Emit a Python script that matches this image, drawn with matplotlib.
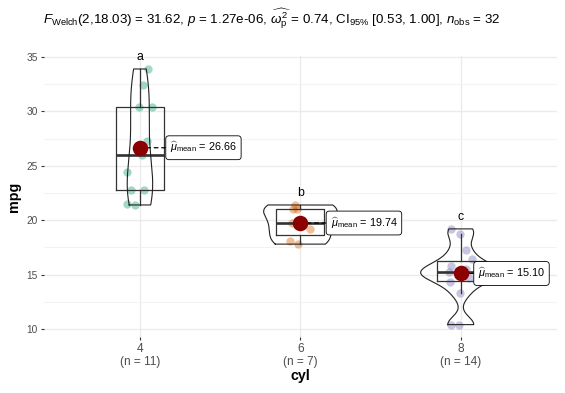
import numpy as np
import matplotlib
matplotlib.use("Agg")
import matplotlib.pyplot as plt

plt.rcParams['font.family'] = ['Liberation Sans', 'DejaVu Sans']
plt.rcParams['mathtext.fontset'] = 'custom'
plt.rcParams['mathtext.rm'] = 'Liberation Sans'
plt.rcParams['mathtext.it'] = 'Liberation Sans:italic'
plt.rcParams['mathtext.bf'] = 'Liberation Sans:bold'

# ---- data ----
categories = ["4", "6", "8"]
counts = [11, 7, 14]
mpg_cyl4 = [33.9, 32.4, 30.4, 30.4, 27.3, 26.0, 24.4, 22.8, 22.8, 21.5, 21.4]
mpg_cyl6 = [21.4, 21.0, 21.0, 19.7, 19.2, 18.1, 17.8]
mpg_cyl8 = [19.2, 18.7, 17.3, 16.4, 15.8, 15.5, 15.2, 15.2, 15.0, 14.7, 14.3, 13.3, 10.4, 10.4]
group_means = [26.66, 19.74, 15.10]
letters = ["a", "b", "c"]
title_text = (r"$F_{\mathrm{Welch}}$(2,18.03) = 31.62, $p$ = 1.27e-06, "
              r"$\widehat{\omega_{\mathrm{p}}^{2}}$ = 0.74, CI$_{95\%}$ [0.53, 1.00], "
              r"$n_{\mathrm{obs}}$ = 32")

# jitter offsets (x, in category units)
jit4 = [0.048, 0.02, -0.004, 0.075, 0.045, 0.014, -0.079, -0.054, 0.023, -0.079, -0.031]
jit6 = [-0.035, -0.045, -0.02, -0.052, 0.062, -0.067, -0.014]
jit8 = [-0.058, -0.006, 0.035, 0.067, -0.058, 0.03, -0.073, -0.02, 0.012, 0.05, -0.069, -0.006, -0.058, -0.011]
label_offsets = [0.188, 0.188, 0.108]

groups = [mpg_cyl4, mpg_cyl6, mpg_cyl8]
jitters = [jit4, jit6, jit8]
colors = ["#1B9E77", "#D95F02", "#7570B3"]
positions = np.arange(1, len(categories) + 1)

fig = plt.figure(figsize=(5.65, 3.93), dpi=100)
W, H = 565, 393
ax = fig.add_axes([43.7 / W, 1 - 337.4 / H, (557 - 43.7) / W, (337.4 - 56.2) / H])

allv = np.concatenate([np.array(g) for g in groups])
lo, hi = allv.min(), allv.max()
pad = 0.05 * (hi - lo)
ax.set_xlim(0.4, len(categories) + 0.6)
ax.set_ylim(lo - pad, hi + pad)

# grid
ax.set_yticks([10, 15, 20, 25, 30, 35])
ax.set_yticks([12.5, 17.5, 22.5, 27.5, 32.5], minor=True)
ax.set_xticks(positions)
ax.set_xticklabels([f"{c}\n(n = {n})" for c, n in zip(categories, counts)], linespacing=1.1)
ax.grid(True, which='major', color='#EBEBEB', lw=1.0)
ax.grid(True, which='minor', axis='y', color='#F3F3F3', lw=0.8)
ax.set_axisbelow(True)
for s in ax.spines.values():
    s.set_visible(False)
ax.tick_params(axis='both', which='major', length=2.5, width=0.8, color='#333333',
               labelcolor='#4D4D4D', pad=2)
ax.tick_params(axis='y', which='major', labelsize=7.3)
ax.tick_params(axis='x', which='major', labelsize=8.6, pad=1.5)
ax.tick_params(axis='y', which='minor', length=0)
ax.tick_params(axis='x', which='minor', length=0)

# KDE (nrd0, gaussian, trimmed) for violins
def nrd0(x):
    x = np.asarray(x)
    hi_ = np.std(x, ddof=1)
    iqr = np.percentile(x, 75) - np.percentile(x, 25)
    lo_ = min(hi_, iqr / 1.34)
    if lo_ == 0:
        lo_ = hi_ if hi_ > 0 else 1.0
    return 0.9 * lo_ * len(x) ** -0.2

dens = []
for g in groups:
    x = np.asarray(g)
    bw = nrd0(x)
    yy = np.linspace(x.min(), x.max(), 512)
    d = np.exp(-0.5 * ((yy[:, None] - x[None, :]) / bw) ** 2).sum(1) / (len(x) * bw * np.sqrt(2 * np.pi))
    dens.append((yy, d))
dmax = max(d.max() for _, d in dens)

# points
for p, g, j, c in zip(positions, groups, jitters, colors):
    ax.scatter(p + np.array(j), g, s=36, color=c, alpha=0.4, lw=0, zorder=2)

# boxplots
ax.boxplot(groups, positions=positions, widths=0.3, whis=1.5, showfliers=False,
           manage_ticks=False, patch_artist=False,
           boxprops=dict(color='#333333', lw=0.9),
           whiskerprops=dict(color='#333333', lw=0.9),
           capprops=dict(lw=0),
           medianprops=dict(color='#333333', lw=1.9),
           zorder=3)

# violins
for p, (yy, d) in zip(positions, dens):
    w = 0.25 * d / dmax
    xs = np.concatenate([p - w, (p + w)[::-1], [p - w[0]]])
    ys = np.concatenate([yy, yy[::-1], [yy[0]]])
    ax.plot(xs, ys, color='#222222', lw=0.8, zorder=4)

# means + labels
for p, m, off in zip(positions, group_means, label_offsets):
    ax.annotate(r"$\widehat{\mu}_{\mathrm{mean}}$ = " + f"{m:.2f}", xy=(p, m), xytext=(p + off, m),
                ha='left', va='center', fontsize=7.8, color='black',
                bbox=dict(boxstyle='round,pad=0.4,rounding_size=0.3', fc='white', ec='black', lw=0.6),
                arrowprops=dict(arrowstyle='-', ls=(0, (3, 3)), lw=0.9, color='black',
                                shrinkA=0, shrinkB=0),
                zorder=5)
    ax.scatter([p], [m], s=125, color='#8B0000', lw=0, zorder=6)

# letters
for p, g, t in zip(positions, groups, letters):
    ax.text(p, max(g) + 0.8, t, ha='center', va='baseline', fontsize=8.8, color='black', zorder=7)

ax.set_xlabel("cyl", fontsize=10.3, fontweight='bold', labelpad=1)
ax.set_ylabel("mpg", fontsize=10.3, fontweight='bold', labelpad=4)
fig.text(43 / W, 1 - 19 / H, title_text, ha='left', va='center', fontsize=9.6)

fig.savefig("out.png", dpi=100)
